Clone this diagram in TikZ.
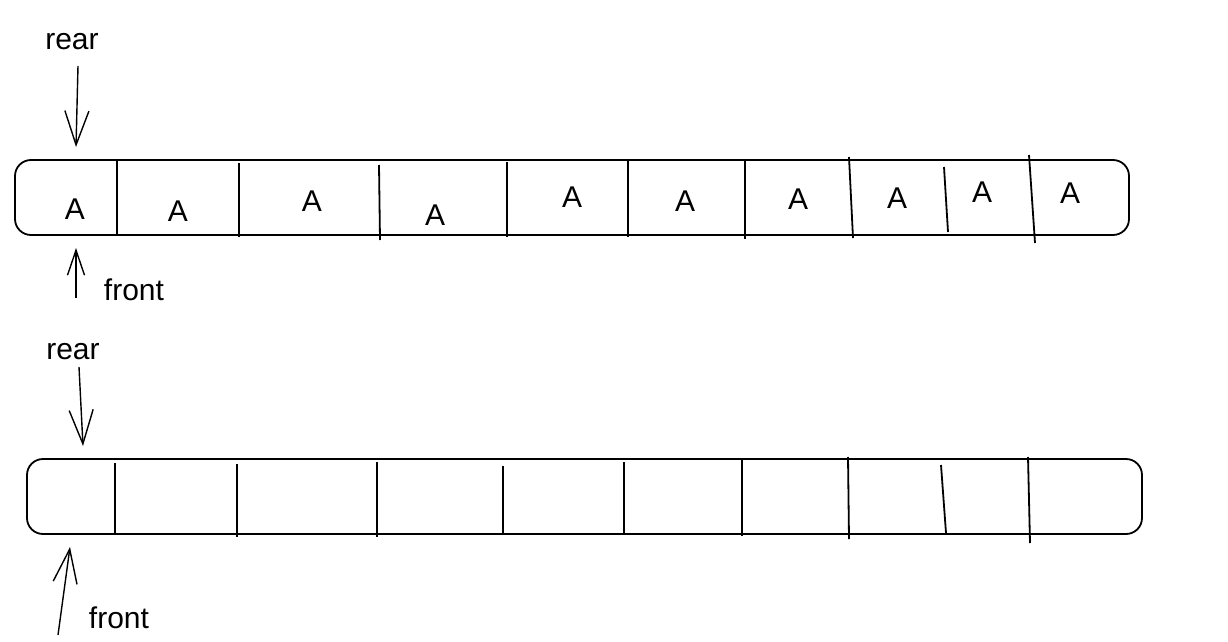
\documentclass[tikz,border=0pt]{standalone}
\usepackage{fontspec}
\setmainfont{Liberation Sans}
\usetikzlibrary{arrows.meta}
\begin{document}
\begin{tikzpicture}[x=1pt,y=-1pt,line width=1.8pt,
    txt/.style={inner sep=0pt,font=\fontsize{30}{35}\selectfont},
    ptr/.style={line width=1.4pt,-{Straight Barb[length=34pt,width=24pt,line width=1.4pt]}}]
    \useasboundingbox (0,0) rectangle (1228,642);
    \draw[rounded corners=16pt] (15,160) rectangle (1129,235);
    \foreach \xa/\ya/\xb/\yb in {117/160/117/236, 239/163/239/237, 379/165/380/240,
        507/162/507/237, 628/161/628/237, 745/161/745/239, 849/157/853/238,
        944/167/948/232, 1029/155/1035/243}
        \draw (\xa,\ya) -- (\xb,\yb);
    \foreach \x/\y [count=\i] in {75/209, 178/211, 312/201, 435/215, 572/197,
        685/201, 798/199, 897/198, 982/192, 1070/193}
        \node[txt] (a\i) at (\x,\y) {A};
    \node[txt] (rear1) at (72,42) {rear};
    \node[txt] (front1) at (134,290) {front};
    \coordinate (r1tail) at (78,66);
    \coordinate (r1tip) at (76,147);
    \coordinate (f1tail) at (76,298);
    \coordinate (f1tip) at (76,248);
    \draw[ptr] (r1tail) -- (r1tip);
    \draw[ptr,-{Straight Barb[length=25pt,width=17pt,line width=1.4pt]}] (f1tail) -- (f1tip);
    \draw[rounded corners=16pt] (27,459) rectangle (1142,534);
    \foreach \xa/\ya/\xb/\yb in {115/463/115/535, 237/464/237/537, 377/462/377/537,
        503/466/503/534, 624/462/624/535, 742/460/742/536, 848/457/849/539,
        941/465/946/533, 1028/457/1030/543}
        \draw (\xa,\ya) -- (\xb,\yb);
    \node[txt] (rear2) at (73,352) {rear};
    \node[txt] (front2) at (119,618) {front};
    \coordinate (r2tail) at (79,367);
    \coordinate (r2tip) at (83,446);
    \coordinate (f2tail) at (58,635);
    \coordinate (f2tip) at (70,547);
    \draw[ptr] (r2tail) -- (r2tip);
    \draw[ptr] (f2tail) -- (f2tip);
\end{tikzpicture}
\end{document}
